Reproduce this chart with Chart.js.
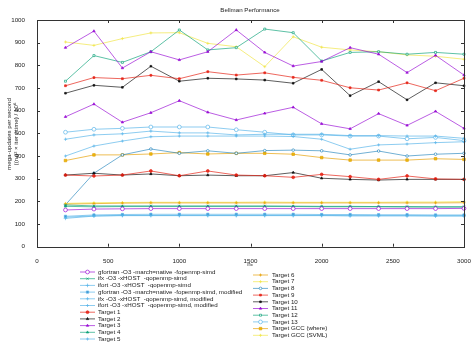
<!DOCTYPE html>
<html>
<head>
<meta charset="utf-8">
<title>Bellman Performance</title>
<script src="https://cdn.jsdelivr.net/npm/chart.js@4.4.0/dist/chart.umd.min.js"></script>
<style>
  html, body { margin: 0; padding: 0; background: #fff; }
  #wrap { width: 474px; height: 346px; }
</style>
</head>
<body>
<div id="wrap"><canvas id="bellmanChart" width="474" height="346"></canvas></div>
<script>
// grid sizes n_x
var nx = [200, 400, 600, 800, 1000, 1200, 1400, 1600, 1800, 2000, 2200, 2400, 2600, 2800, 3000];

// mega-updates per second for each build
var gfortranSimd    = [162, 166, 167, 168, 168, 168, 168, 168, 168, 168, 168, 168, 168, 168, 169];
var ifxSimd         = [184, 180, 180, 180, 180, 180, 180, 180, 179, 178, 178, 177, 177, 176, 176];
var ifortSimd       = [125, 135, 137, 137, 137, 137, 137, 137, 137, 137, 136, 136, 136, 135, 135];
var gfortranSimdMod = [134, 140, 142, 143, 143, 143, 143, 143, 143, 142, 142, 141, 141, 140, 140];
var ifxSimdMod      = [474, 493, 498, 510, 502, 502, 493, 496, 496, 496, 490, 490, 488, 488, 478];
var ifortSimdMod    = [400, 444, 466, 485, 488, 488, 488, 488, 486, 474, 430, 449, 453, 459, 463];
var target1  = [316, 312, 316, 334, 313, 334, 316, 313, 306, 319, 309, 297, 312, 299, 297];
var target2  = [316, 324, 316, 321, 313, 316, 313, 313, 327, 302, 297, 294, 297, 297, 297];
var target3  = [573, 629, 549, 591, 644, 593, 559, 588, 615, 542, 520, 587, 535, 597, 522];
var target4  = [178, 176, 177, 177, 177, 177, 177, 177, 177, 176, 176, 176, 175, 175, 175];
var target5  = [130, 136, 138, 138, 138, 138, 138, 138, 138, 138, 137, 137, 137, 137, 137];
var target6  = [188, 190, 192, 193, 193, 193, 193, 193, 193, 193, 193, 193, 193, 193, 194];
var target7  = [191, 194, 195, 196, 196, 196, 196, 197, 196, 196, 196, 196, 197, 197, 199];
var target8  = [185, 324, 405, 431, 412, 423, 412, 424, 426, 423, 405, 422, 400, 408, 412];
var target9  = [710, 746, 741, 756, 741, 772, 757, 767, 747, 734, 701, 691, 723, 688, 743];
var target10 = [677, 712, 703, 796, 730, 743, 740, 735, 721, 782, 666, 728, 648, 723, 710];
var target11 = [878, 951, 788, 860, 824, 860, 956, 857, 797, 817, 878, 849, 768, 844, 757];
var target12 = [730, 843, 813, 860, 956, 868, 878, 960, 944, 819, 857, 860, 849, 857, 849];
var target13 = [505, 518, 522, 528, 528, 528, 516, 505, 493, 493, 488, 488, 476, 482, 468];
var targetGccWhere = [380, 405, 405, 409, 415, 409, 412, 412, 408, 393, 382, 382, 382, 388, 385];
var targetGccSvml  = [903, 888, 918, 943, 944, 897, 882, 794, 926, 880, 868, 860, 846, 840, 827];

var xTicks = [0, 500, 1000, 1500, 2000, 2500, 3000];
var yTicks = [0, 100, 200, 300, 400, 500, 600, 700, 800, 900, 1000];

// gnuplot-like palette, slightly washed out
var PURPLE = "rgba(148,0,211,0.8)", TEAL = "rgba(0,158,115,0.8)", SKY = "rgba(86,180,233,0.85)",
    ORANGE = "rgba(230,159,0,0.85)", YELLOW = "rgba(240,228,66,0.85)", BLUE = "rgba(0,114,178,0.7)",
    RED = "rgba(229,30,16,0.85)", BLACK = "rgba(0,0,0,0.8)";

var series = [
  { label: "gfortran -O3 -march=native -fopenmp-simd", data: gfortranSimd, color: PURPLE, point: "circle", open: true, r: 1.9 },
  { label: "ifx -O3 -xHOST  -qopenmp-simd", data: ifxSimd, color: TEAL, point: "crossRot", r: 1.6 },
  { label: "ifort -O3 -xHOST  -qopenmp-simd", data: ifortSimd, color: SKY, point: "cross", r: 1.8 },
  { label: "gfortran -O3 -march=native -fopenmp-simd, modified", data: gfortranSimdMod, color: SKY, point: "rect", r: 1.6, fill: "rgba(47,134,196,0.85)" },
  { label: "ifx -O3 -xHOST  -qopenmp-simd, modified", data: ifxSimdMod, color: SKY, point: "cross", r: 1.6 },
  { label: "ifort -O3 -xHOST  -qopenmp-simd, modified", data: ifortSimdMod, color: SKY, point: "cross", r: 1.5 },
  { label: "Target 1", data: target1, color: RED, point: "circle", r: 1.4 },
  { label: "Target 2", data: target2, color: BLACK, point: "triangle", r: 1.4 },
  { label: "Target 3", data: target3, color: PURPLE, point: "triangle", r: 1.4 },
  { label: "Target 4", data: target4, color: TEAL, point: "triangle", r: 1.4 },
  { label: "Target 5", data: target5, color: SKY, point: "cross", r: 1.5 },
  { label: "Target 6", data: target6, color: ORANGE, point: "cross", r: 1.5 },
  { label: "Target 7", data: target7, color: YELLOW, point: "cross", r: 1.5 },
  { label: "Target 8", data: target8, color: BLUE, point: "circle", open: true, r: 1.3 },
  { label: "Target 9", data: target9, color: RED, point: "rect", r: 1.3 },
  { label: "Target 10", data: target10, color: BLACK, point: "rect", r: 1.2 },
  { label: "Target 11", data: target11, color: PURPLE, point: "triangle", r: 1.4 },
  { label: "Target 12", data: target12, color: TEAL, point: "rect", open: true, r: 1.4 },
  { label: "Target 13", data: target13, color: SKY, point: "circle", open: true, r: 1.9 },
  { label: "Target GCC (where)", data: targetGccWhere, color: ORANGE, point: "rect", r: 1.8, fill: "rgba(230,184,0,0.9)" },
  { label: "Target GCC (SVML)", data: targetGccSvml, color: YELLOW, point: "cross", r: 1.5 }
];

var FONT = "'Liberation Sans', Arial, sans-serif";
var FONT_SIZE = 6.2;

// frame with inward ticks on all four sides, title and axis labels
var framePlugin = {
  id: "frame",
  afterDatasetsDraw: function (chart) {
    var ctx = chart.ctx, a = chart.chartArea;
    var xs = chart.scales.x, ys = chart.scales.y;
    ctx.save();
    ctx.strokeStyle = "#333";
    ctx.lineWidth = 1;
    ctx.strokeRect(Math.round(a.left) + 0.5, Math.round(a.top) + 0.5,
      Math.round(a.right - a.left), Math.round(a.bottom - a.top));
    ctx.beginPath();
    xTicks.forEach(function (v) {
      var px = Math.round(xs.getPixelForValue(v)) + 0.5;
      ctx.moveTo(px, a.bottom); ctx.lineTo(px, a.bottom - 3);
      ctx.moveTo(px, a.top); ctx.lineTo(px, a.top + 3);
    });
    yTicks.forEach(function (v) {
      var py = Math.round(ys.getPixelForValue(v)) + 0.5;
      ctx.moveTo(a.left, py); ctx.lineTo(a.left + 3, py);
      ctx.moveTo(a.right, py); ctx.lineTo(a.right - 3, py);
    });
    ctx.stroke();

    ctx.fillStyle = "#222";
    ctx.textAlign = "center";
    ctx.textBaseline = "middle";
    ctx.font = FONT_SIZE + "px " + FONT;
    ctx.fillText("Bellman Performance", 250, 10);
    ctx.fillText("n\u2093", 250, 264);

    ctx.translate(12, 134);
    ctx.rotate(-Math.PI / 2);
    ctx.fillText("mega-updates per second", 0, -3);
    ctx.fillText("((n\u2093)\u00b2 \u00d7 iter / time) / 10\u2076", 0, 4);
    ctx.restore();
  }
};

// two-column key below the plot: line sample with marker, then the label
var keyPlugin = {
  id: "key",
  afterDraw: function (chart) {
    var ctx = chart.ctx;
    ctx.save();
    ctx.font = FONT_SIZE + "px " + FONT;
    ctx.textBaseline = "middle";
    ctx.textAlign = "left";
    chart.data.datasets.forEach(function (ds, i) {
      var left = i < 11;
      var row = left ? i : i - 11;
      var y = (left ? 272 : 275) + row * 6.7;
      var x0 = left ? 80 : 253;
      ctx.strokeStyle = ds.borderColor;
      ctx.lineWidth = 0.8;
      ctx.beginPath();
      ctx.moveTo(x0, y);
      ctx.lineTo(x0 + 15, y);
      ctx.stroke();
      ctx.fillStyle = ds.pointBackgroundColor;
      ctx.strokeStyle = ds.pointBorderColor;
      Chart.helpers.drawPoint(ctx, {
        pointStyle: ds.pointStyle, radius: ds.pointRadius, rotation: 0, borderWidth: 0.8
      }, x0 + 7.5, y);
      ctx.fillStyle = "#222";
      ctx.fillText(ds.label, left ? 98 : 272, y);
    });
    ctx.restore();
  }
};

function buildDatasets() {
  return series.map(function (s) {
    return {
      label: s.label,
      data: nx.map(function (n, i) { return { x: n, y: s.data[i] }; }),
      borderColor: s.color,
      borderWidth: 0.8,
      pointStyle: s.point,
      pointRadius: s.r,
      pointBorderWidth: 0.8,
      pointBorderColor: s.color,
      pointBackgroundColor: s.open ? "#ffffff" : (s.fill || s.color),
      tension: 0,
      fill: false,
      clip: false
    };
  });
}

function plainTick(value) {
  return String(value);
}

var chart = new Chart(document.getElementById("bellmanChart"), {
  type: "line",
  data: { datasets: buildDatasets() },
  options: {
    responsive: false,
    animation: false,
    devicePixelRatio: 1,
    layout: { padding: { top: 20, right: 10, left: 0, bottom: 0 } },
    plugins: {
      legend: { display: false },
      title: { display: false },
      tooltip: { enabled: false }
    },
    scales: {
      x: {
        type: "linear",
        min: 0,
        max: 3000,
        grid: { display: false },
        border: { display: false },
        afterFit: function (s) { s.height = 99.3; },
        afterBuildTicks: function (s) { s.ticks = xTicks.map(function (v) { return { value: v }; }); },
        ticks: { padding: 3, maxRotation: 0, color: "#222", font: { family: FONT, size: FONT_SIZE }, callback: plainTick }
      },
      y: {
        min: 0,
        max: 1000,
        grid: { display: false },
        border: { display: false },
        afterFit: function (s) { s.width = 37; },
        afterBuildTicks: function (s) { s.ticks = yTicks.map(function (v) { return { value: v }; }); },
        ticks: { padding: 4, color: "#222", font: { family: FONT, size: FONT_SIZE }, callback: plainTick }
      }
    }
  },
  plugins: [framePlugin, keyPlugin]
});
</script>
</body>
</html>
